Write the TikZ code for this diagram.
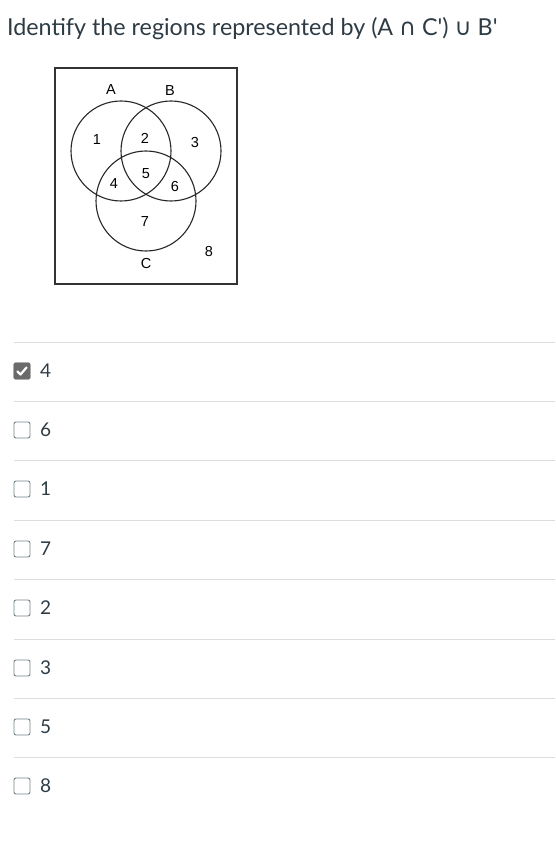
\documentclass[tikz,border=0pt]{standalone}
\usepackage{fontspec}
\setmainfont{Lato}
\newfontfamily\vennfont{Liberation Sans}
\newfontfamily\symfont{DejaVu Sans}
\definecolor{textgray}{HTML}{2D3B45}
\definecolor{rulegray}{HTML}{DDDDDD}
\definecolor{boxgray}{HTML}{73818A}
\definecolor{tickgray}{HTML}{6B6B6B}
\tikzset{
  venncircle/.style={circle, draw=black!85, line width=1.1pt, minimum size=100pt, inner sep=0pt},
  regionlabel/.style={font=\vennfont\fontsize{14.5}{14.5}\selectfont, inner sep=0pt},
  optbox/.style={draw=boxgray, line width=0.9pt, rounded corners=2pt, minimum size=16pt, inner sep=0pt},
  optnum/.style={anchor=west, text=textgray, font=\fontsize{19}{19}\selectfont, inner sep=0pt},
  sepline/.style={draw=rulegray, line width=0.8pt}
}
\begin{document}
\begin{tikzpicture}[x=1pt, y=-1pt]
\useasboundingbox (0,0) rectangle (555,842);

% Question
\node [anchor=base west, text=textgray, font=\fontsize{23.3}{23.3}\selectfont, inner sep=0pt] (question)
  at (7,35.5) {Identify the regions represented by (A {\symfont∩} C\textquotesingle) {\symfont∪} B\textquotesingle};

% Universal set
\draw [black!80, line width=1.1pt] (55,68) rectangle (237,284);

% Sets A, B, C
\node [venncircle] (circA) at (121,151) {};
\node [venncircle] (circB) at (171,151) {};
\node [venncircle] (circC) at (146,201) {};

% Set names
\node [regionlabel] (nameA) at (111,90) {A};
\node [regionlabel] (nameB) at (170,91) {B};
\node [regionlabel] (nameC) at (146,264) {C};

% Region numbers
\node [regionlabel] (reg1) at (97,140) {1};
\node [regionlabel] (reg2) at (145,138) {2};
\node [regionlabel] (reg3) at (195,143) {3};
\node [regionlabel] (reg4) at (114,184) {4};
\node [regionlabel] (reg5) at (146,174) {5};
\node [regionlabel] (reg6) at (175,187) {6};
\node [regionlabel] (reg7) at (145,222) {7};
\node [regionlabel] (reg8) at (209,252) {8};

% Answer rows
\foreach \y/\ans [count=\i] in {371/4, 430/6, 489/1, 549/7, 608/2, 668/3, 727/5, 786/8} {
  \draw [sepline] (14,\y-29) -- (555,\y-29);
  \node [optbox] (box\i) at (22,\y) {};
  \node [optnum] (ans\i) at (40,\y) {\ans};
}

% Ticked answer
\fill [tickgray, rounded corners=2pt] (box1.south west) rectangle (box1.north east);
\draw [white, line width=2.2pt, line cap=round, line join=round]
  ([shift={(-4.5,0.5)}]box1.center) -- ([shift={(-1.5,3.5)}]box1.center) -- ([shift={(4.5,-3.5)}]box1.center);
\end{tikzpicture}
\end{document}
